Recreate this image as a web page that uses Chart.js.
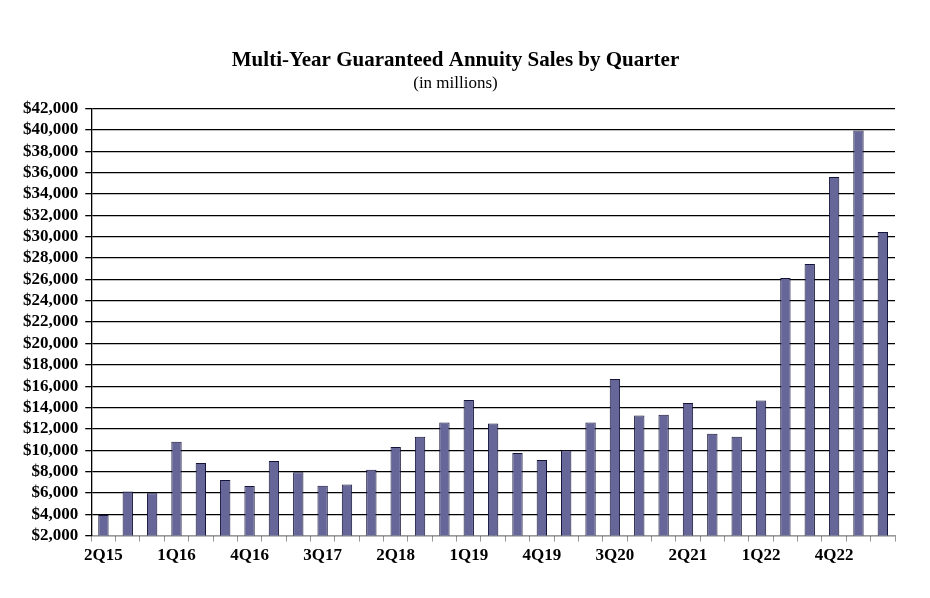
<!DOCTYPE html>
<html>
<head>
<meta charset="utf-8">
<script src="https://cdn.jsdelivr.net/npm/chart.js@4"></script>
<style>
  html, body { margin: 0; padding: 0; background: #fff; }
  #wrap { width: 930px; height: 598px; }
</style>
</head>
<body>
<div id="wrap"><canvas id="myChart" width="930" height="598"></canvas></div>
<script>
var quarters = ["2Q15", "3Q15", "4Q15", "1Q16", "2Q16", "3Q16", "4Q16", "1Q17", "2Q17", "3Q17", "4Q17",
    "1Q18", "2Q18", "3Q18", "4Q18", "1Q19", "2Q19", "3Q19", "4Q19", "1Q20", "2Q20", "3Q20", "4Q20",
    "1Q21", "2Q21", "3Q21", "4Q21", "1Q22", "2Q22", "3Q22", "4Q22", "1Q23", "2Q23"];
var sales = [3940, 6120, 5960, 10780, 8810, 7220, 6650, 9000, 7930, 6680, 6780,
    8180, 10310, 11250, 12590, 14710, 12490, 9740, 9090, 9990, 12590, 16680, 13240,
    13330, 14430, 11550, 11270, 14650, 26140, 27450, 35600, 39940, 30450];
var titleText = "Multi-Year Guaranteed Annuity Sales by Quarter";
var subtitleText = "(in millions)";

draw();
function draw() {
    var ctx = document.getElementById("myChart");
    var data = {
        labels: quarters,
        datasets: [
            {
                label: "MYGA sales",
                data: sales,
                backgroundColor: "#666699",
                borderColor: "#14143a",
                borderWidth: 1,
                barPercentage: 0.85,
                categoryPercentage: 0.5
            }
        ]
    };

    var myChart = new Chart(ctx, {
        type: 'bar',
        data: data,
        options: {
            responsive: false,
            animation: false,
            layout: { padding: { left: 16, right: 35, top: 48, bottom: 28 } },
            plugins: {
                legend: { display: false },
                tooltip: { enabled: false },
                title: {
                    display: true,
                    text: titleText,
                    color: '#000',
                    font: { family: 'Liberation Serif', size: 21, weight: 'bold' },
                    padding: { top: 0, bottom: 0 }
                },
                subtitle: {
                    display: true,
                    text: subtitleText,
                    color: '#000',
                    font: { family: 'Liberation Serif', size: 17 },
                    padding: { top: 0, bottom: 15 }
                }
            },
            scales: {
                x: {
                    offset: true,
                    grid: {
                        offset: true,
                        drawOnChartArea: false,
                        drawTicks: true,
                        tickLength: 6,
                        color: '#999'
                    },
                    border: { color: '#999', width: 1 },
                    ticks: {
                        autoSkip: false,
                        maxRotation: 0,
                        color: '#000',
                        padding: 4,
                        font: { family: 'Liberation Serif', size: 17, weight: 'bold' },
                        callback: function (val, idx) {
                            return idx % 3 === 0 ? quarters[idx] : '';
                        }
                    }
                },
                y: {
                    min: 2000,
                    max: 42000,
                    grid: {
                        color: '#000',
                        lineWidth: 1.3,
                        tickLength: 6
                    },
                    border: { color: '#000', width: 1.3 },
                    ticks: {
                        stepSize: 2000,
                        autoSkip: false,
                        color: '#000',
                        padding: 7,
                        font: { family: 'Liberation Serif', size: 17, weight: 'bold', lineHeight: 1 },
                        callback: function (v) {
                            return '$' + v.toLocaleString('en-US');
                        }
                    }
                }
            }
        }
    });
}
</script>
</body>
</html>
